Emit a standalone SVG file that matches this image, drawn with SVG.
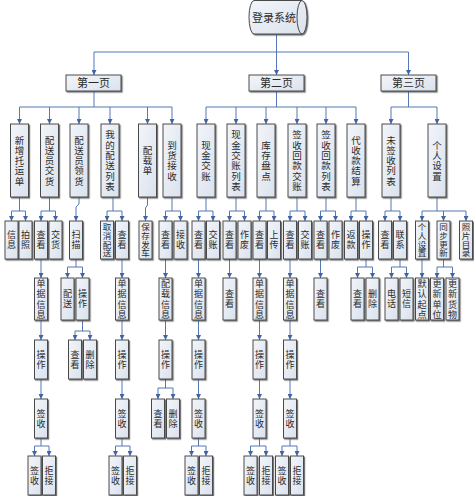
<svg xmlns="http://www.w3.org/2000/svg" width="474" height="496" viewBox="0 0 474 496">
<defs>
<linearGradient id="g" x1="0" y1="0" x2="1" y2="1"><stop offset="0" stop-color="#f2f5fa"/><stop offset="1" stop-color="#dbe2ed"/></linearGradient>
<filter id="sh" x="-20%" y="-20%" width="160%" height="160%"><feDropShadow dx="1.2" dy="1.2" stdDeviation="0.3" flood-color="#555" flood-opacity="0.8"/></filter>
<marker id="ar" viewBox="0 0 8 8" refX="8" refY="4" markerWidth="5" markerHeight="5" markerUnits="userSpaceOnUse" orient="auto"><path d="M0,0 L8,4 L0,8 z" fill="#3f64a6"/></marker>
<style>
.b{fill:url(#g);stroke:#4a4a4a;stroke-width:1;filter:url(#sh)}
.t{font-family:"Noto Sans CJK SC","Noto Sans CJK JP",sans-serif;font-size:9px;letter-spacing:1px;fill:#2a2a2a;text-anchor:middle}
.v{writing-mode:vertical-rl}
.t2{font-size:9.5px;letter-spacing:0.8px}
.t4{font-size:8.5px;letter-spacing:0.3px}
.t5{letter-spacing:1.2px}
.tp{font-size:11px;letter-spacing:0}
.ln{stroke:#5577b5;stroke-width:1;fill:none}
.ar{marker-end:url(#ar)}
</style>
</defs>
<rect width="474" height="496" fill="#fff"/>

<g id="connectors">
<path class="ln ar" d="M276.5,34 V75"/>
<path class="ln" d="M94,52 H408.5"/>
<path class="ln ar" d="M94,52 V75"/>
<path class="ln ar" d="M408.5,52 V75"/>
<path class="ln" d="M94,91 V107 M19.5,107 H172"/>
<path class="ln ar" d="M19.5,107 V124"/><path class="ln ar" d="M49.5,107 V124"/><path class="ln ar" d="M79,107 V124"/><path class="ln ar" d="M110,107 V124"/><path class="ln ar" d="M147.5,107 V124"/><path class="ln ar" d="M172,107 V124"/>
<path class="ln" d="M276.5,91 V107 M206,107 H356"/>
<path class="ln ar" d="M206,107 V124"/><path class="ln ar" d="M236,107 V124"/><path class="ln ar" d="M266,107 V124"/><path class="ln ar" d="M297,107 V124"/><path class="ln ar" d="M326,107 V124"/><path class="ln ar" d="M356,107 V124"/>
<path class="ln" d="M408.5,91 V107 M391,107 H437"/>
<path class="ln ar" d="M391,107 V124"/><path class="ln ar" d="M437,107 V124"/>
<path class="ln" d="M19.5,197 V211 M11.5,211 H25.5"/><path class="ln ar" d="M11.5,211 V221"/><path class="ln ar" d="M25.5,211 V221"/>
<path class="ln" d="M49.5,197 V211 M41,211 H55.5"/><path class="ln ar" d="M41,211 V221"/><path class="ln ar" d="M55.5,211 V221"/>
<path class="ln ar" d="M79,197 V204 L76,207 V221"/>
<path class="ln" d="M113,197 V211 M107,211 H122"/><path class="ln ar" d="M107,211 V221"/><path class="ln ar" d="M122,211 V221"/>
<path class="ln ar" d="M147.5,197 V205 L145.5,208 V221"/>
<path class="ln" d="M172,197 V211 M165.5,211 H180.5"/><path class="ln ar" d="M165.5,211 V221"/><path class="ln ar" d="M180.5,211 V221"/>
<path class="ln" d="M206,197 V211 M198.5,211 H213"/><path class="ln ar" d="M198.5,211 V221"/><path class="ln ar" d="M213,211 V221"/>
<path class="ln" d="M236,197 V211 M229.5,211 H244.5"/><path class="ln ar" d="M229.5,211 V221"/><path class="ln ar" d="M244.5,211 V221"/>
<path class="ln" d="M266,197 V211 M259.5,211 H274"/><path class="ln ar" d="M259.5,211 V221"/><path class="ln ar" d="M274,211 V221"/>
<path class="ln" d="M297,197 V211 M290,211 H305"/><path class="ln ar" d="M290,211 V221"/><path class="ln ar" d="M305,211 V221"/>
<path class="ln" d="M326,197 V211 M320.5,211 H335.5"/><path class="ln ar" d="M320.5,211 V221"/><path class="ln ar" d="M335.5,211 V221"/>
<path class="ln" d="M356,197 V211 M351,211 H366"/><path class="ln ar" d="M351,211 V221"/><path class="ln ar" d="M366,211 V221"/>
<path class="ln" d="M391,197 V211 M385,211 H400"/><path class="ln ar" d="M385,211 V221"/><path class="ln ar" d="M400,211 V221"/>
<path class="ln" d="M437,197 V211 M422,211 H466"/><path class="ln ar" d="M422,211 V221"/><path class="ln ar" d="M443.5,211 V221"/><path class="ln ar" d="M466,211 V221"/>
<path class="ln ar" d="M41,259 V278"/>
<path class="ln" d="M76,259 V267 M67.5,267 H82.5"/><path class="ln ar" d="M67.5,267 V278"/><path class="ln ar" d="M82.5,267 V278"/>
<path class="ln ar" d="M122,259 V278"/>
<path class="ln ar" d="M165.5,259 V278"/>
<path class="ln ar" d="M198.5,259 V278"/>
<path class="ln ar" d="M229.5,259 V278"/>
<path class="ln ar" d="M259.5,259 V278"/>
<path class="ln ar" d="M290,259 V278"/>
<path class="ln ar" d="M320.5,259 V278"/>
<path class="ln" d="M366,259 V267 M357.5,267 H372.5"/><path class="ln ar" d="M357.5,267 V278"/><path class="ln ar" d="M372.5,267 V278"/>
<path class="ln" d="M400,259 V267 M391.5,267 H406.5"/><path class="ln ar" d="M391.5,267 V278"/><path class="ln ar" d="M406.5,267 V278"/>
<path class="ln ar" d="M422,259 V278"/>
<path class="ln" d="M443.5,259 V267 M437,267 H452.5"/><path class="ln ar" d="M437,267 V278"/><path class="ln ar" d="M452.5,267 V278"/>
<path class="ln ar" d="M41,320 V340"/>
<path class="ln" d="M82.5,320 V331 M75,331 H90"/><path class="ln ar" d="M75,331 V340"/><path class="ln ar" d="M90,331 V340"/>
<path class="ln ar" d="M122,320 V340"/>
<path class="ln ar" d="M165.5,320 V340"/>
<path class="ln ar" d="M198.5,320 V340"/>
<path class="ln ar" d="M259.5,320 V340"/>
<path class="ln ar" d="M290,320 V340"/>
<path class="ln ar" d="M41,379 V399"/>
<path class="ln ar" d="M122,379 V399"/>
<path class="ln" d="M165.5,379 V388 M158,388 H173"/><path class="ln ar" d="M158,388 V399"/><path class="ln ar" d="M173,388 V399"/>
<path class="ln ar" d="M198.5,379 V399"/>
<path class="ln ar" d="M259.5,379 V399"/>
<path class="ln ar" d="M290,379 V399"/>
<path class="ln" d="M41,438 V446 M34.5,446 H49"/><path class="ln ar" d="M34.5,446 V456"/><path class="ln ar" d="M49,446 V456"/>
<path class="ln" d="M122,438 V446 M115.5,446 H130"/><path class="ln ar" d="M115.5,446 V456"/><path class="ln ar" d="M130,446 V456"/>
<path class="ln" d="M198.5,438 V446 M191.5,446 H206"/><path class="ln ar" d="M191.5,446 V456"/><path class="ln ar" d="M206,446 V456"/>
<path class="ln" d="M259.5,438 V446 M250.5,446 H266"/><path class="ln ar" d="M250.5,446 V456"/><path class="ln ar" d="M266,446 V456"/>
<path class="ln" d="M290,438 V446 M282,446 H297"/><path class="ln ar" d="M282,446 V456"/><path class="ln ar" d="M297,446 V456"/>
</g>

<g id="login">
<path d="M254,0.5 H302 A5,16.75 0 0 1 302,34 H254 A5,16.75 0 0 1 254,0.5 Z" fill="url(#g)" stroke="#4a4a4a" stroke-width="1" filter="url(#sh)"/>
<path d="M302,0.5 A5,16.75 0 0 0 302,34" fill="none" stroke="#4a4a4a" stroke-width="1"/>
<text class="t tp" x="274" y="21.5">登录系统</text>
</g>

<g id="page1"><rect class="b" x="66" y="75" width="55" height="16"/><text class="t tp" x="93.5" y="87">第一页</text></g>
<g id="page2"><rect class="b" x="249" y="75" width="55" height="16"/><text class="t tp" x="276.5" y="87">第二页</text></g>
<g id="page3"><rect class="b" x="381" y="75" width="55" height="16"/><text class="t tp" x="408.5" y="87">第三页</text></g>

<g id="a1"><rect class="b" x="10.5" y="124" width="18" height="73"/><text class="t t2 v" x="19.5" y="160.9">新增托运单</text></g>
<g id="a2"><rect class="b" x="40.5" y="124" width="18" height="73"/><text class="t t2 v" x="49.5" y="160.9">配送员交货</text></g>
<g id="a3"><rect class="b" x="70" y="124" width="18" height="73"/><text class="t t2 v" x="79" y="160.9">配送员领货</text></g>
<g id="a4"><rect class="b" x="101" y="124" width="18" height="73"/><text class="t t2 v" x="110" y="160.9">我的配送列表</text></g>
<g id="a5"><rect class="b" x="138.5" y="124" width="18" height="73"/><text class="t t2 v" x="147.5" y="160.9">配载单</text></g>
<g id="a6"><rect class="b" x="163" y="124" width="18" height="73"/><text class="t t2 v" x="172" y="160.9">到货接收</text></g>
<g id="b1"><rect class="b" x="197" y="124" width="18" height="73"/><text class="t t2 v" x="206" y="160.9">现金交账</text></g>
<g id="b2"><rect class="b" x="227" y="124" width="18" height="73"/><text class="t t2 v" x="236" y="160.9">现金交账列表</text></g>
<g id="b3"><rect class="b" x="257" y="124" width="18" height="73"/><text class="t t2 v" x="266" y="160.9">库存盘点</text></g>
<g id="b4"><rect class="b" x="288" y="124" width="18" height="73"/><text class="t t2 v" x="297" y="160.9">签收回款交账</text></g>
<g id="b5"><rect class="b" x="317" y="124" width="18" height="73"/><text class="t t2 v" x="326" y="160.9">签收回款列表</text></g>
<g id="b6"><rect class="b" x="347" y="124" width="18" height="73"/><text class="t t2 v" x="356" y="160.9">代收款结算</text></g>
<g id="c1"><rect class="b" x="382" y="124" width="18" height="73"/><text class="t t2 v" x="391" y="160.9">未签收列表</text></g>
<g id="c2"><rect class="b" x="428" y="124" width="18" height="73"/><text class="t t2 v" x="437" y="160.9">个人设置</text></g>

<g id="a1a"><rect class="b" x="5" y="221" width="13" height="38"/><text class="t v" x="11.5" y="240.5">信息</text></g>
<g id="a1b"><rect class="b" x="19" y="221" width="13" height="38"/><text class="t v" x="25.5" y="240.5">拍照</text></g>
<g id="a2a"><rect class="b" x="34.5" y="221" width="13" height="38"/><text class="t v" x="41" y="240.5">查看</text></g>
<g id="a2b"><rect class="b" x="49" y="221" width="13" height="38"/><text class="t v" x="55.5" y="240.5">交货</text></g>
<g id="a3a"><rect class="b" x="69.5" y="221" width="13" height="38"/><text class="t v" x="76" y="240.5">扫描</text></g>
<g id="a4a"><rect class="b" x="100.5" y="221" width="13" height="38"/><text class="t t4 v" x="107" y="240.2">取消配送</text></g>
<g id="a4b"><rect class="b" x="115.5" y="221" width="13" height="38"/><text class="t v" x="122" y="240.5">查看</text></g>
<g id="a5a"><rect class="b" x="139" y="221" width="13" height="38"/><text class="t t4 v" x="145.5" y="240.2">保存发车</text></g>
<g id="a6a"><rect class="b" x="159" y="221" width="13" height="38"/><text class="t v" x="165.5" y="240.5">查看</text></g>
<g id="a6b"><rect class="b" x="174" y="221" width="13" height="38"/><text class="t v" x="180.5" y="240.5">接收</text></g>
<g id="b1a"><rect class="b" x="192" y="221" width="13" height="38"/><text class="t v" x="198.5" y="240.5">查看</text></g>
<g id="b1b"><rect class="b" x="206.5" y="221" width="13" height="38"/><text class="t v" x="213" y="240.5">交账</text></g>
<g id="b2a"><rect class="b" x="223" y="221" width="13" height="38"/><text class="t v" x="229.5" y="240.5">查看</text></g>
<g id="b2b"><rect class="b" x="238" y="221" width="13" height="38"/><text class="t v" x="244.5" y="240.5">作废</text></g>
<g id="b3a"><rect class="b" x="253" y="221" width="13" height="38"/><text class="t v" x="259.5" y="240.5">查看</text></g>
<g id="b3b"><rect class="b" x="267.5" y="221" width="13" height="38"/><text class="t v" x="274" y="240.5">上传</text></g>
<g id="b4a"><rect class="b" x="283.5" y="221" width="13" height="38"/><text class="t v" x="290" y="240.5">查看</text></g>
<g id="b4b"><rect class="b" x="298.5" y="221" width="13" height="38"/><text class="t v" x="305" y="240.5">交账</text></g>
<g id="b5a"><rect class="b" x="314" y="221" width="13" height="38"/><text class="t v" x="320.5" y="240.5">查看</text></g>
<g id="b5b"><rect class="b" x="329" y="221" width="13" height="38"/><text class="t v" x="335.5" y="240.5">作废</text></g>
<g id="b6a"><rect class="b" x="344.5" y="221" width="13" height="38"/><text class="t v" x="351" y="240.5">返款</text></g>
<g id="b6b"><rect class="b" x="359.5" y="221" width="13" height="38"/><text class="t v" x="366" y="240.5">操作</text></g>
<g id="c1a"><rect class="b" x="378.5" y="221" width="13" height="38"/><text class="t v" x="385" y="240.5">查看</text></g>
<g id="c1b"><rect class="b" x="393.5" y="221" width="13" height="38"/><text class="t v" x="400" y="240.5">联系</text></g>
<g id="c2a"><rect class="b" x="415.5" y="221" width="13" height="38"/><text class="t t4 v" x="422" y="240.2">个人设置</text></g>
<g id="c2b"><rect class="b" x="437" y="221" width="13" height="38"/><text class="t t4 v" x="443.5" y="240.2">同步更新</text></g>
<g id="c2c"><rect class="b" x="459.5" y="221" width="13" height="38"/><text class="t t4 v" x="466" y="240.2">照片目录</text></g>

<g id="a2a1"><rect class="b" x="34.5" y="278" width="13" height="42"/><text class="t t5 v" x="41" y="299.6">单据信息</text></g>
<g id="a3a1"><rect class="b" x="61" y="278" width="13" height="42"/><text class="t v" x="67.5" y="299.5">配送</text></g>
<g id="a3a2"><rect class="b" x="76" y="278" width="13" height="42"/><text class="t v" x="82.5" y="299.5">操作</text></g>
<g id="a4b1"><rect class="b" x="115.5" y="278" width="13" height="42"/><text class="t t5 v" x="122" y="299.6">单据信息</text></g>
<g id="a6a1"><rect class="b" x="159" y="278" width="13" height="42"/><text class="t t5 v" x="165.5" y="299.6">配载信息</text></g>
<g id="b1a1"><rect class="b" x="192" y="278" width="13" height="42"/><text class="t t5 v" x="198.5" y="299.6">单据信息</text></g>
<g id="b2a1"><rect class="b" x="223" y="278" width="13" height="42"/><text class="t v" x="229.5" y="299.5">查看</text></g>
<g id="b3a1"><rect class="b" x="253" y="278" width="13" height="42"/><text class="t t5 v" x="259.5" y="299.6">单据信息</text></g>
<g id="b4a1"><rect class="b" x="283.5" y="278" width="13" height="42"/><text class="t t5 v" x="290" y="299.6">单据信息</text></g>
<g id="b5a1"><rect class="b" x="314" y="278" width="13" height="42"/><text class="t v" x="320.5" y="299.5">查看</text></g>
<g id="b6b1"><rect class="b" x="351" y="278" width="13" height="42"/><text class="t v" x="357.5" y="299.5">查看</text></g>
<g id="b6b2"><rect class="b" x="366" y="278" width="13" height="42"/><text class="t v" x="372.5" y="299.5">删除</text></g>
<g id="c1b1"><rect class="b" x="385" y="278" width="13" height="42"/><text class="t v" x="391.5" y="299.5">电话</text></g>
<g id="c1b2"><rect class="b" x="400" y="278" width="13" height="42"/><text class="t v" x="406.5" y="299.5">短信</text></g>
<g id="c2a1"><rect class="b" x="415.5" y="278" width="13" height="42"/><text class="t t5 v" x="422" y="299.6">默认起点</text></g>
<g id="c2b1"><rect class="b" x="430.5" y="278" width="13" height="42"/><text class="t t5 v" x="437" y="299.6">更新单位</text></g>
<g id="c2b2"><rect class="b" x="446" y="278" width="13" height="42"/><text class="t t5 v" x="452.5" y="299.6">更新货物</text></g>

<g id="a2a2"><rect class="b" x="34.5" y="340" width="13" height="39"/><text class="t v" x="41" y="360">操作</text></g>
<g id="a3a21"><rect class="b" x="68.5" y="340" width="13" height="39"/><text class="t v" x="75" y="360">查看</text></g>
<g id="a3a22"><rect class="b" x="83.5" y="340" width="13" height="39"/><text class="t v" x="90" y="360">删除</text></g>
<g id="a4b2"><rect class="b" x="115.5" y="340" width="13" height="39"/><text class="t v" x="122" y="360">操作</text></g>
<g id="a6a2"><rect class="b" x="159" y="340" width="13" height="39"/><text class="t v" x="165.5" y="360">操作</text></g>
<g id="b1a2"><rect class="b" x="192" y="340" width="13" height="39"/><text class="t v" x="198.5" y="360">操作</text></g>
<g id="b3a2"><rect class="b" x="253" y="340" width="13" height="39"/><text class="t v" x="259.5" y="360">操作</text></g>
<g id="b4a2"><rect class="b" x="283.5" y="340" width="13" height="39"/><text class="t v" x="290" y="360">操作</text></g>

<g id="a2a3"><rect class="b" x="34.5" y="399" width="13" height="39"/><text class="t v" x="41" y="419">签收</text></g>
<g id="a4b3"><rect class="b" x="115.5" y="399" width="13" height="39"/><text class="t v" x="122" y="419">签收</text></g>
<g id="a6a31"><rect class="b" x="151.5" y="399" width="13" height="39"/><text class="t v" x="158" y="419">查看</text></g>
<g id="a6a32"><rect class="b" x="166.5" y="399" width="13" height="39"/><text class="t v" x="173" y="419">删除</text></g>
<g id="b1a3"><rect class="b" x="192" y="399" width="13" height="39"/><text class="t v" x="198.5" y="419">签收</text></g>
<g id="b3a3"><rect class="b" x="253" y="399" width="13" height="39"/><text class="t v" x="259.5" y="419">签收</text></g>
<g id="b4a3"><rect class="b" x="283.5" y="399" width="13" height="39"/><text class="t v" x="290" y="419">签收</text></g>

<g id="a2a41"><rect class="b" x="28" y="456" width="13" height="39"/><text class="t v" x="34.5" y="476">签收</text></g>
<g id="a2a42"><rect class="b" x="42.5" y="456" width="13" height="39"/><text class="t v" x="49" y="476">拒接</text></g>
<g id="a4b41"><rect class="b" x="109" y="456" width="13" height="39"/><text class="t v" x="115.5" y="476">签收</text></g>
<g id="a4b42"><rect class="b" x="123.5" y="456" width="13" height="39"/><text class="t v" x="130" y="476">拒接</text></g>
<g id="b1a41"><rect class="b" x="185" y="456" width="13" height="39"/><text class="t v" x="191.5" y="476">签收</text></g>
<g id="b1a42"><rect class="b" x="199.5" y="456" width="13" height="39"/><text class="t v" x="206" y="476">拒接</text></g>
<g id="b3a41"><rect class="b" x="244" y="456" width="13" height="39"/><text class="t v" x="250.5" y="476">签收</text></g>
<g id="b3a42"><rect class="b" x="259.5" y="456" width="13" height="39"/><text class="t v" x="266" y="476">拒接</text></g>
<g id="b4a41"><rect class="b" x="275.5" y="456" width="13" height="39"/><text class="t v" x="282" y="476">签收</text></g>
<g id="b4a42"><rect class="b" x="290.5" y="456" width="13" height="39"/><text class="t v" x="297" y="476">拒接</text></g>
</svg>
